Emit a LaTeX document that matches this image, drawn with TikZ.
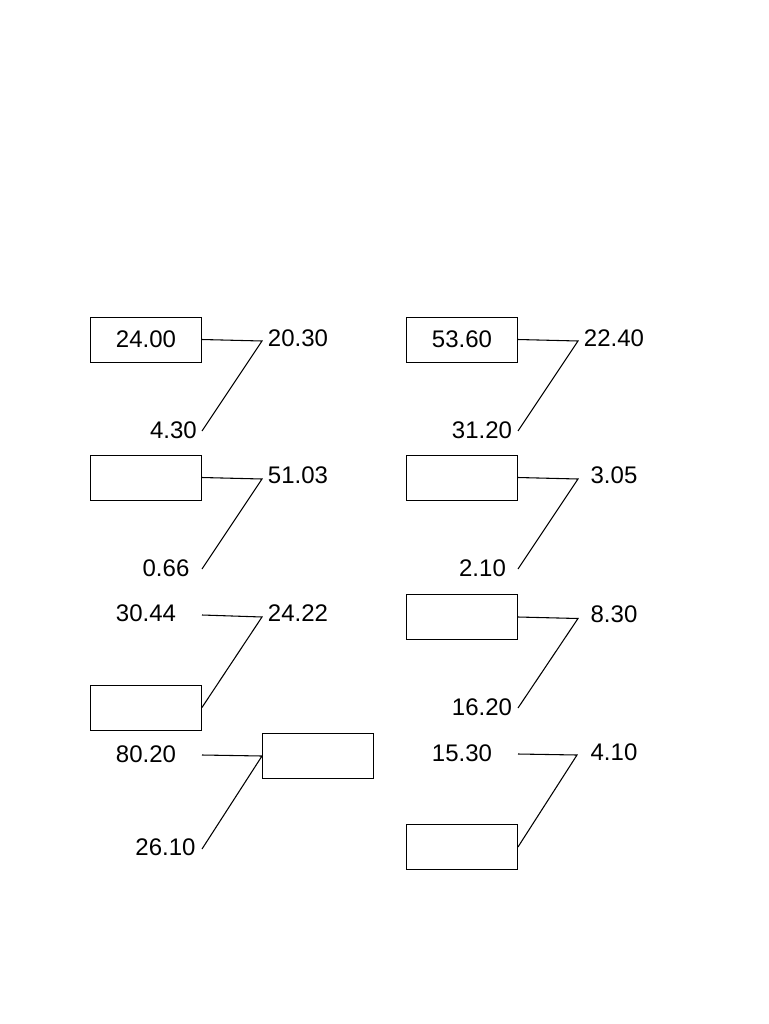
\documentclass[tikz,border=0pt]{standalone}
\usepackage{fontspec}
\setmainfont{Liberation Sans}
\begin{document}
\begin{tikzpicture}[x=0.75pt,y=-0.75pt,
  cell/.style={minimum width=83.25pt,minimum height=33.75pt,inner sep=0pt,
    font=\fontsize{18}{21}\selectfont},
  boxcell/.style={cell,draw,line width=0.7pt},
  lbl/.style={inner sep=0pt,font=\fontsize{18}{21}\selectfont},
  conn/.style={line width=0.8pt}]
\useasboundingbox (0,0) rectangle (768,1024);

% ---------- left column ----------
% row 1
\node[boxcell] (t1) at (146,339.5) {24.00};
\coordinate (a1) at (262,341);
\node[lbl] (p1) at (298,338) {20.30};
\node[lbl,anchor=east] (b1) at (197,430) {4.30};
\coordinate (e1) at (202,431);
\draw[conn] (t1.east) -- (a1) -- (e1);

% row 2
\node[boxcell] (t2) at (146,477.5) {};
\coordinate (a2) at (262,479);
\node[lbl] (p2) at (298,475) {51.03};
\node[lbl] (b2) at (166,568) {0.66};
\coordinate (e2) at (202,569);
\draw[conn] (t2.east) -- (a2) -- (e2);

% row 3
\node[cell] (t3) at (146,613) {30.44};
\coordinate (s3) at (202,615);
\coordinate (a3) at (262,617);
\node[lbl] (p3) at (298,613) {24.22};
\node[boxcell] (b3) at (146,707.5) {};
\draw[conn] (s3) -- (a3) -- (b3.east);

% row 4
\node[cell] (t4) at (146,754) {80.20};
\coordinate (s4) at (202,755);
\node[boxcell,anchor=west] (p4) at (262,756) {};
\node[lbl] (b4) at (165.5,847) {26.10};
\coordinate (e4) at (202,849);
\draw[conn] (s4) -- (p4.west) -- (e4);

% ---------- right column ----------
% row 1
\node[boxcell] (u1) at (462,339.5) {53.60};
\coordinate (c1) at (578,341);
\node[lbl] (q1) at (614,338) {22.40};
\node[lbl] (d1) at (482,430) {31.20};
\coordinate (f1) at (518,431);
\draw[conn] (u1.east) -- (c1) -- (f1);

% row 2
\node[boxcell] (u2) at (462,477.5) {};
\coordinate (c2) at (578,479);
\node[lbl] (q2) at (614,475) {3.05};
\node[lbl] (d2) at (482.5,568) {2.10};
\coordinate (f2) at (518,569);
\draw[conn] (u2.east) -- (c2) -- (f2);

% row 3
\node[boxcell] (u3) at (462,617) {};
\coordinate (c3) at (578,618.5);
\node[lbl] (q3) at (614,614) {8.30};
\node[lbl] (d3) at (482,707) {16.20};
\coordinate (f3) at (518,708);
\draw[conn] (u3.east) -- (c3) -- (f3);

% row 4
\node[lbl] (u4) at (462,753) {15.30};
\coordinate (s8) at (518,754);
\coordinate (c4) at (577,755);
\node[lbl] (q4) at (614,752) {4.10};
\node[boxcell] (d4) at (462,847) {};
\draw[conn] (s8) -- (c4) -- (d4.east);
\end{tikzpicture}
\end{document}
